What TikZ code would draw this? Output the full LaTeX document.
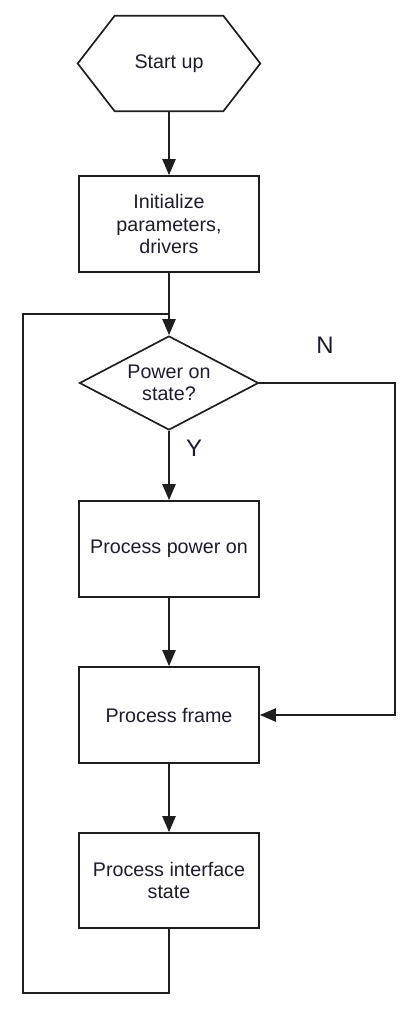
\documentclass[tikz,border=0pt]{standalone}
\usepackage{fontspec}
\setmainfont{Liberation Sans}
\usetikzlibrary{
  arrows.meta,
  shapes.geometric,
  calc
}
\definecolor{flowline}{RGB}{30,30,30}
\definecolor{flowtext}{RGB}{28,28,44}
\tikzset{
  flow text/.style={
    text=flowtext,
    align=center,
    font=\fontsize{14}{15.8}\selectfont
  },
  flow box/.style={
    flow text,
    draw=flowline,
    line width=1.2pt,
    rectangle,
    minimum width=4.5cm,
    minimum height=2.4cm
  },
  flow hexa/.style={
    flow text,
    minimum width=4.55cm,
    minimum height=2.375cm
  },
  flow decide/.style={
    flow text,
    draw=flowline,
    line width=1.2pt,
    diamond,
    aspect=1.9,
    inner sep=0pt,
    minimum width=4.475cm,
    minimum height=2.35cm
  },
  flow line/.style={
    draw=flowline,
    line width=1.2pt
  },
  flow arrow/.style={
    flow line,
    -{Triangle[length=4mm,width=3.3mm]}
  },
  branch label/.style={
    text=flowtext,
    font=\fontsize{17}{20}\selectfont
  }
}

\begin{document}
\begin{tikzpicture}[x=0.025cm,y=-0.025cm]
\useasboundingbox (0,0) rectangle (405,1024);
\node[flow hexa] (start) at (169,63.5) {Start up};
\draw[flow line] (start.west)
  -- ([xshift=0.925cm]start.north west) -- ([xshift=-0.925cm]start.north east)
  -- (start.east)
  -- ([xshift=-0.925cm]start.south east) -- ([xshift=0.925cm]start.south west)
  -- cycle;
\node[flow box] (init) at (169,224) {Initialize\\parameters,\\drivers};
\node[flow decide] (decide) at (169,383) {Power on\\state?};
\node[flow box] (power) at (169,549) {Process power on};
\node[flow box] (frame) at (169,715) {Process frame};
\node[flow box, minimum height=2.375cm] (iface) at (169,880.5) {Process interface\\state};
\node[branch label] (nlab) at (325,345) {N};
\node[branch label] (ylab) at (194,448) {Y};
\coordinate (nturn) at (395,715);
\coordinate (looptop) at (23,314);
\coordinate (loopbot) at (23,993);

\draw[flow arrow] (start) -- (init);
\draw[flow arrow] (init) -- (decide);
\draw[flow arrow] (decide) -- (power);
\draw[flow arrow] (power) -- (frame);
\draw[flow arrow] (frame) -- (iface);
\draw[flow arrow] (decide.east) -| (nturn) -- (frame.east);
\draw[flow line] (iface.south) |- (loopbot) -- (looptop) -- (init.south |- looptop);
\end{tikzpicture}
\end{document}
